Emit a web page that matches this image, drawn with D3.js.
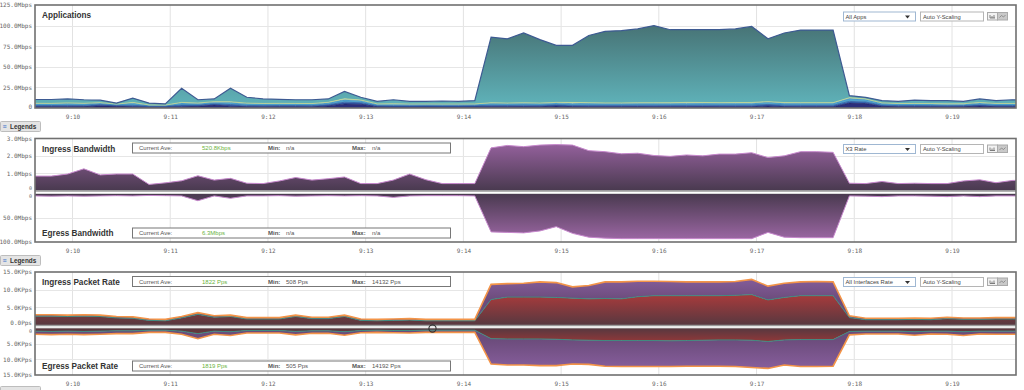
<!DOCTYPE html>
<html>
<head>
<meta charset="utf-8">
<script src="https://cdn.jsdelivr.net/npm/d3@7"></script>
<style>
  body { margin: 0; background: #fff; }
  svg { display: block; }
</style>
</head>
<body>
<div id="chart"></div>
<script>
// samples every 10s starting 9:09:37
const startTime = new Date(2020, 0, 1, 9, 9, 37);
const stepSec = 10;

// Applications (Mbps), stacked bottom -> top
const appNavy = [1.5,1.5,1.5,1.6,2.6,2.0,1.5,1.2,1.2,1.5, 2.0,3.5,2.2,1.5,1.4,1.5,1.5,1.4,2.5,5.0,
  4.6,1.6,1.2,1.2,1.3,1.2,1.2,1.3,1.5,1.5, 1.6,1.5,2.4,1.6,1.5,1.5,1.5,1.6,1.5,1.5,
  1.5,1.6,1.5,1.5,1.5,2.5,1.6,1.5,1.5,1.5, 6.0,5.4,2.0,1.5,1.5,1.5,1.4,1.5,2.4,1.5, 1.5,1.5];
const appBlue = [1.6,1.5,1.7,1.5,1.6,1.2,1.8,1.0,1.0,2.0, 1.5,1.6,2.0,1.6,1.5,1.5,1.5,1.5,1.6,2.0,
  1.8,1.2,1.5,1.4,1.4,1.4,1.4,1.5,1.8,1.7, 1.8,1.7,1.6,1.6,1.8,1.8,1.8,1.8,1.9,1.8,
  1.8,1.8,1.8,1.9,1.9,1.8,1.8,1.8,1.8,1.8, 2.0,1.8,1.5,1.4,1.5,1.4,1.4,1.4,1.5,1.5, 1.5,1.5];
const appSky = [2.0,2.0,2.2,2.0,1.8,1.2,2.5,1.2,1.0,2.5, 2.0,2.0,2.5,2.2,2.0,2.0,2.0,2.0,2.2,3.0,
  2.5,1.8,2.0,1.8,1.8,1.8,1.8,1.8,2.2,2.2, 2.4,2.2,2.2,2.0,2.4,2.3,2.3,2.4,2.4,2.3,
  2.3,2.3,2.4,2.4,2.5,2.6,2.4,2.4,2.4,2.4, 3.5,3.0,2.2,2.0,2.0,2.0,1.8,1.8,2.2,2.0, 2.0,2.0];
const appPale = [0.6,0.6,0.8,0.6,0.5,0.3,1.0,0.3,0.3,0.8, 0.5,0.6,0.8,0.6,0.6,0.6,0.5,0.5,0.6,1.2,
  0.8,0.4,0.5,0.4,0.4,0.4,0.4,0.4,0.8,0.6, 0.6,0.6,0.6,1.5,0.8,0.6,0.6,0.6,0.6,0.8,
  1.2,1.0,0.8,0.8,0.8,0.8,0.8,0.8,0.8,0.8, 1.0,0.8,0.5,0.5,0.5,0.5,0.5,0.5,0.6,0.5, 0.5,0.5];
const appTeal = [4.6,4.7,4.8,4.3,3.0,1.3,5.2,2.3,1.5,17.2, 4.0,3.3,16.5,7.1,5.5,4.9,4.5,4.6,4.1,8.8,
  3.3,3.0,4.8,3.2,3.1,3.7,3.2,4.0,79.7,78.0, 84.6,77.0,69.2,69.3,81.5,86.8,87.8,89.6,93.6,88.6,
  88.2,88.3,88.5,89.4,92.3,76.3,84.4,88.1,88.1,88.1, 2.5,2.0,2.8,2.6,4.0,3.6,3.9,2.8,4.3,3.5, 4.5,3.5];

// Bandwidth: ingress (Mbps, 0-3), egress (Mbps, 0-100)
const bwIn = [0.83,0.83,0.95,1.25,0.9,0.95,0.95,0.35,0.44,0.56, 0.85,0.6,0.7,0.42,0.4,0.55,0.75,0.6,0.68,0.78,
  0.4,0.4,0.6,0.95,0.62,0.4,0.4,0.4,2.46,2.6, 2.53,2.62,2.65,2.62,2.3,2.24,2.12,2.15,2.02,1.97,
  2.05,2.0,2.1,2.1,2.18,1.9,2.0,2.24,2.24,2.2, 0.42,0.4,0.52,0.4,0.42,0.4,0.4,0.55,0.62,0.45, 0.58,0.6];
const bwOut = [4,4.5,4,4.5,4,3.5,4,3,3.5,4, 14,4,9,4,4,3.5,4.5,4,3.5,4,
  3.5,4,7,4,3.5,3.5,3.5,4,79,80, 81,77,68,82,90,92,93,93,93,93,
  93,93,93,93,93,80,90,91,91,91, 4,4.5,5.5,4,4,4.5,5.5,4,5.5,4, 4,4.5];

// Packet rate (KPps), two stacked series each direction
const pktInMain = [2.5,2.5,2.4,2.5,2.4,2.0,1.9,1.3,1.2,2.0, 3.0,2.2,2.4,1.7,1.7,1.7,2.4,1.8,1.8,2.4,
  1.3,1.2,1.3,1.4,1.2,1.2,1.2,1.2,7.2,7.9, 7.9,7.9,7.8,7.6,7.4,7.5,7.4,8.0,8.3,8.3,
  8.3,8.3,8.3,8.4,8.6,7.1,7.8,8.3,8.3,8.3, 2.1,1.5,1.5,1.5,1.6,1.5,1.8,1.6,1.6,1.7, 1.7,1.6];
const pktInOther = [0.4,0.4,0.4,0.4,0.4,0.4,0.4,0.4,0.4,0.4, 0.5,0.4,0.4,0.4,0.4,0.4,0.4,0.4,0.4,0.4,
  0.4,0.4,0.4,0.4,0.4,0.4,0.4,0.4,4.3,3.8, 3.9,4.3,4.2,3.2,3.8,4.7,4.8,4.4,4.1,4.0,
  3.9,3.9,3.9,3.9,4.3,3.9,4.0,3.9,4.0,3.9, 0.5,0.4,0.4,0.4,0.4,0.4,0.4,0.4,0.4,0.4, 0.4,0.4];
const pktOutMain = [1.0,1.1,1.0,1.1,1.0,0.9,0.9,0.7,0.7,1.0, 1.8,1.0,1.2,0.8,0.8,0.8,1.1,0.9,0.9,1.2,
  0.8,0.7,0.8,0.8,0.7,0.7,0.7,0.7,3.4,3.5, 3.5,3.5,3.6,3.8,3.9,4.0,4.0,4.0,4.0,4.1,
  4.0,3.9,3.8,3.8,3.9,4.3,3.8,3.7,3.7,3.7, 1.1,1.0,1.0,1.0,1.2,1.0,1.0,1.2,1.0,1.0, 1.0,1.0];
const pktOutOther = [1.0,1.0,1.0,1.0,1.0,0.9,0.9,0.7,0.7,1.0, 1.6,1.0,1.2,0.8,0.8,0.8,1.1,0.8,0.8,1.1,
  0.7,0.7,0.7,0.8,0.7,0.7,0.7,0.7,8.1,8.3, 8.3,8.5,8.4,7.7,7.7,8.2,8.3,8.3,8.3,8.2,
  8.2,8.3,8.4,8.5,8.7,8.6,8.0,8.6,8.6,8.5, 1.1,0.9,0.9,0.9,1.1,0.9,1.0,1.2,0.9,1.0, 1.0,0.9];

const times = appTeal.map((d, i) => new Date(+startTime + i * stepSec * 1000));

const W = 1024, H = 390;
const L = 35, R = 1016;

const svg = d3.select("#chart").append("svg")
  .attr("width", W).attr("height", H)
  .style("font-family", "'Liberation Sans', Arial, sans-serif");
const defs = svg.append("defs");

const x = d3.scaleTime()
  .domain([new Date(2020, 0, 1, 9, 10), new Date(2020, 0, 1, 9, 19)])
  .range([72.5, 952]);

function grad(id, y1, y2, c1, c2) {
  const g = defs.append("linearGradient").attr("id", id)
    .attr("gradientUnits", "userSpaceOnUse")
    .attr("x1", 0).attr("x2", 0).attr("y1", y1).attr("y2", y2);
  g.append("stop").attr("offset", 0).attr("stop-color", c1);
  g.append("stop").attr("offset", 1).attr("stop-color", c2);
  return "url(#" + id + ")";
}

function clip(id, top, bottom) {
  defs.append("clipPath").attr("id", id).append("rect")
    .attr("x", L).attr("y", top).attr("width", R - L).attr("height", bottom - top);
  return "url(#" + id + ")";
}

const monoFont = "'DejaVu Sans Mono', monospace";

// gridlines + axes for one panel
function frame(top, bottom, yScales) {
  const g = svg.append("g");
  g.selectAll("line.v").data(x.ticks(d3.timeMinute.every(1))).join("line")
    .attr("x1", d => x(d)).attr("x2", d => x(d))
    .attr("y1", top).attr("y2", bottom)
    .attr("stroke", "#e2e2e2").attr("stroke-width", 1);
  yScales.forEach(s => {
    g.selectAll(null).data(s.ticks.filter(v => v > 0 && v < s.max)).join("line")
      .attr("x1", L).attr("x2", R)
      .attr("y1", d => Math.round(s.y(d)) + 0.5).attr("y2", d => Math.round(s.y(d)) + 0.5)
      .attr("stroke", "#e6e6e6");
    const ax = svg.append("g").attr("transform", `translate(${L},0)`)
      .call(d3.axisLeft(s.y).tickValues(s.ticks).tickFormat(s.fmt).tickSize(0).tickPadding(3));
    ax.select(".domain").remove();
    ax.selectAll("text").attr("font-family", monoFont).attr("font-size", 6).attr("fill", "#666");
    // the two zero labels sit on either side of the split line
    ax.selectAll(".tick").filter(d => d === 0).select("text")
      .attr("font-size", s.zeroSize || 6).attr("dy", s.zeroDy);
  });
  const xa = svg.append("g").attr("transform", `translate(0,${bottom})`)
    .call(d3.axisBottom(x).ticks(d3.timeMinute.every(1))
      .tickFormat(d3.timeFormat("%-H:%M")).tickSize(0).tickPadding(7));
  xa.select(".domain").remove();
  xa.selectAll("text").attr("font-family", monoFont).attr("font-size", 6).attr("fill", "#666");
}

function border(top, bottom) {
  svg.append("rect").attr("x", L).attr("y", top).attr("width", R - L).attr("height", bottom - top)
    .attr("fill", "none").attr("stroke", "#707070").attr("stroke-width", 1.6);
}

function separator(y) {
  svg.append("rect").attr("x", L).attr("y", y).attr("width", R - L).attr("height", 2.5).attr("fill", "#fff");
  svg.append("line").attr("x1", L).attr("x2", R).attr("y1", y).attr("y2", y)
    .attr("stroke", "#9a9a9a").attr("stroke-width", 1.6);
  svg.append("line").attr("x1", L).attr("x2", R).attr("y1", y + 2.5).attr("y2", y + 2.5)
    .attr("stroke", "#cfcfcf").attr("stroke-width", 0.8);
}

function title(txt, y) {
  svg.append("text").attr("x", 42).attr("y", y).text(txt)
    .attr("font-size", 8.2).attr("font-weight", "bold").attr("fill", "#333");
}

function infoBox(y, ave, mn, mx) {
  const g = svg.append("g").attr("font-size", 6).attr("fill", "#555");
  g.append("rect").attr("x", 132.5).attr("y", y).attr("width", 318).attr("height", 10)
    .attr("fill", "#fff").attr("stroke", "#777").attr("stroke-width", 1);
  g.append("text").attr("x", 139).attr("y", y + 7.2).text("Current Ave:");
  g.append("text").attr("x", 202).attr("y", y + 7.2).text(ave).attr("fill", "#6bb342");
  g.append("text").attr("x", 268).attr("y", y + 7.2).text("Min:").attr("font-weight", "bold");
  g.append("text").attr("x", 286).attr("y", y + 7.2).text(mn);
  g.append("text").attr("x", 352).attr("y", y + 7.2).text("Max:").attr("font-weight", "bold");
  g.append("text").attr("x", 372).attr("y", y + 7.2).text(mx);
}

function controls(y, label) {
  const g = svg.append("g").attr("font-size", 5.8).attr("fill", "#444");
  g.append("rect").attr("x", 843.5).attr("y", y).attr("width", 72).attr("height", 9)
    .attr("fill", "#fff").attr("stroke", "#9fb7d2");
  g.append("text").attr("x", 845.5).attr("y", y + 6.5).text(label);
  g.append("path").attr("d", `M905,${y + 3.5} h5 l-2.5,3 z`).attr("fill", "#333");
  g.append("rect").attr("x", 920.5).attr("y", y).attr("width", 63).attr("height", 9)
    .attr("fill", "#fff").attr("stroke", "#b5b5b5");
  g.append("text").attr("x", 923).attr("y", y + 6.5).text("Auto Y-Scaling");
  g.append("rect").attr("x", 987.5).attr("y", y + 0.5).attr("width", 10).attr("height", 7.5)
    .attr("fill", "#f2f2f2").attr("stroke", "#aaa");
  g.append("rect").attr("x", 997.5).attr("y", y + 0.5).attr("width", 10).attr("height", 7.5)
    .attr("fill", "#c9c9c9").attr("stroke", "#aaa");
  g.append("path").attr("d", `M990,${y + 6} v-3 M992,${y + 6} v-2 M994,${y + 6} v-3 M990,${y + 6} h5`)
    .attr("stroke", "#555").attr("stroke-width", 0.7).attr("fill", "none");
  g.append("path").attr("d", `M999.5,${y + 5.5} l2,-2 l2,1.5 l2,-2`)
    .attr("stroke", "#777").attr("stroke-width", 0.7).attr("fill", "none");
}

function legendsButton(y, withText) {
  const g = svg.append("g");
  g.append("rect").attr("x", 0.5).attr("y", y).attr("width", 40).attr("height", 10).attr("rx", 1)
    .attr("fill", "#e4e4e4").attr("stroke", "#bdbdbd");
  if (!withText) return;
  g.append("text").attr("x", 2.5).attr("y", y + 7.5).text("≡")
    .attr("font-size", 7).attr("font-weight", "bold").attr("fill", "#3a6ec8");
  g.append("text").attr("x", 10).attr("y", y + 7.3).text("Legends")
    .attr("font-size", 6.4).attr("font-weight", "bold").attr("fill", "#333");
}

// ---------- Panel 1: Applications ----------
const p1 = { top: 5, bottom: 108 };
const yApp = d3.scaleLinear().domain([0, 125]).range([p1.bottom, p1.top]);
frame(p1.top, p1.bottom, [{
  y: yApp, ticks: [0, 25, 50, 75, 100, 125], max: 125,
  fmt: d => d === 0 ? "0" : d.toFixed(1) + "Mbps"
}]);

const appKeys = ["navy", "blue", "sky", "pale", "teal"];
const appRows = times.map((t, i) => ({
  t, navy: appNavy[i], blue: appBlue[i], sky: appSky[i], pale: appPale[i], teal: appTeal[i]
}));
const appFill = {
  navy: "#2b2e7b", blue: "#3766b2", sky: "#4fa2cd", pale: "#e1eab2",
  teal: grad("tealGrad", 25, 105, "#477375", "#5fb2b9")
};
const appStroke = { navy: "#23266a", blue: "#2f5aa0", sky: "#3d8fbf", pale: "#c8d98f", teal: "#3d5a92" };
const appStack = d3.stack().keys(appKeys)(appRows);
const appArea = d3.area().x(d => x(d.data.t)).y0(d => yApp(d[0])).y1(d => yApp(d[1]));
const appLine = d3.line().x(d => x(d.data.t)).y(d => yApp(d[1]));
const g1 = svg.append("g").attr("clip-path", clip("c1", p1.top, p1.bottom));
g1.selectAll("path.a").data(appStack).join("path")
  .attr("d", appArea).attr("fill", d => appFill[d.key]);
g1.selectAll("path.l").data(appStack).join("path")
  .attr("d", appLine).attr("fill", "none")
  .attr("stroke", d => appStroke[d.key]).attr("stroke-width", d => d.key === "teal" ? 1.2 : 0.8);
border(p1.top, p1.bottom);
title("Applications", 18);
controls(12, "All Apps");
legendsButton(121.5, true);

// ---------- Panel 2: Bandwidth ----------
const p2 = { top: 138.5, bottom: 242, sep: 191 };
const yBwIn = d3.scaleLinear().domain([0, 3]).range([190.5, p2.top]);
const yBwOut = d3.scaleLinear().domain([0, 100]).range([194, p2.bottom]);
frame(p2.top, p2.bottom, [
  { y: yBwIn, ticks: [0, 1, 2, 3], max: 3, fmt: d => d === 0 ? "0" : d.toFixed(1) + "Mbps",
    zeroSize: 5, zeroDy: "-0.2em" },
  { y: yBwOut, ticks: [0, 50, 100], max: 100, fmt: d => d === 0 ? "0" : d.toFixed(1) + "Mbps",
    zeroSize: 5, zeroDy: "0.75em" }
]);
const g2 = svg.append("g").attr("clip-path", clip("c2", p2.top, p2.bottom));
const inFill = grad("bwInGrad", 190, 145, "#4a3a50", "#93609b");
const outFill = grad("bwOutGrad", 194, 240, "#4a3a50", "#9c67a4");
g2.append("path").datum(bwIn)
  .attr("d", d3.area().x((d, i) => x(times[i])).y0(yBwIn(0)).y1(d => yBwIn(d)))
  .attr("fill", inFill);
g2.append("path").datum(bwIn)
  .attr("d", d3.line().x((d, i) => x(times[i])).y(d => yBwIn(d)))
  .attr("fill", "none").attr("stroke", "#c688cc").attr("stroke-width", 1);
g2.append("path").datum(bwOut)
  .attr("d", d3.area().x((d, i) => x(times[i])).y0(yBwOut(0)).y1(d => yBwOut(d)))
  .attr("fill", outFill);
g2.append("path").datum(bwOut)
  .attr("d", d3.line().x((d, i) => x(times[i])).y(d => yBwOut(d)))
  .attr("fill", "none").attr("stroke", "#c688cc").attr("stroke-width", 1);
separator(p2.sep);
border(p2.top, p2.bottom);
title("Ingress Bandwidth", 151.5);
title("Egress Bandwidth", 235.5);
infoBox(143, "520.8Kbps", "n/a", "n/a");
infoBox(228, "6.3Mbps", "n/a", "n/a");
controls(144.5, "X3 Rate");
legendsButton(255.5, true);

// ---------- Panel 3: Packet rate ----------
const p3 = { top: 272, bottom: 375, sep: 325.5 };
const yPkIn = d3.scaleLinear().domain([0, 15]).range([325, p3.top]);
const yPkOut = d3.scaleLinear().domain([0, 15]).range([328, p3.bottom]);
const kfmt = d => d.toFixed(1) + "KPps";
frame(p3.top, p3.bottom, [
  { y: yPkIn, ticks: [0, 5, 10, 15], max: 15, fmt: d => d === 0 ? "0.0Pps" : kfmt(d),
    zeroSize: 6, zeroDy: "-0.1em" },
  { y: yPkOut, ticks: [0, 5, 10, 15], max: 15, fmt: d => d === 0 ? "0" : kfmt(d),
    zeroSize: 5, zeroDy: "0.8em" }
]);
const g3 = svg.append("g").attr("clip-path", clip("c3", p3.top, p3.bottom));

function packetStack(mainVals, otherVals, y, fills) {
  const rows = times.map((t, i) => ({ t, main: mainVals[i], other: otherVals[i] }));
  const st = d3.stack().keys(["main", "other"])(rows);
  const area = d3.area().x(d => x(d.data.t)).y0(d => y(d[0])).y1(d => y(d[1]));
  const line = d3.line().x(d => x(d.data.t)).y(d => y(d[1]));
  g3.append("path").datum(st[0]).attr("d", area).attr("fill", fills.main);
  g3.append("path").datum(st[1]).attr("d", area).attr("fill", fills.other);
  g3.append("path").datum(st[0]).attr("d", line).attr("fill", "none")
    .attr("stroke", "#3f8a7f").attr("stroke-width", 1);
  g3.append("path").datum(st[1]).attr("d", line).attr("fill", "none")
    .attr("stroke", "#f39448").attr("stroke-width", 1.6);
}
packetStack(pktInMain, pktInOther, yPkIn, {
  main: grad("pkInRed", 325, 292, "#573840", "#b03b3b"),
  other: grad("pkInPur", 300, 274, "#6c4c7c", "#8a60a0")
});
packetStack(pktOutMain, pktOutOther, yPkOut, {
  main: grad("pkOutRed", 328, 344, "#553840", "#9c3838"),
  other: grad("pkOutPur", 340, 372, "#6c4c7c", "#8a60a0")
});
separator(p3.sep);
// hover cursor ring
svg.append("circle").attr("cx", 432.5).attr("cy", 328.5).attr("r", 3.6)
  .attr("fill", "none").attr("stroke", "#333").attr("stroke-width", 1.1);
border(p3.top, p3.bottom);
title("Ingress Packet Rate", 285);
title("Egress Packet Rate", 369);
infoBox(276.5, "1822 Pps", "508 Pps", "14132 Pps");
infoBox(361, "1819 Pps", "505 Pps", "14192 Pps");
controls(277.5, "All Interfaces Rate");
legendsButton(386.5, false);
</script>
</body>
</html>
